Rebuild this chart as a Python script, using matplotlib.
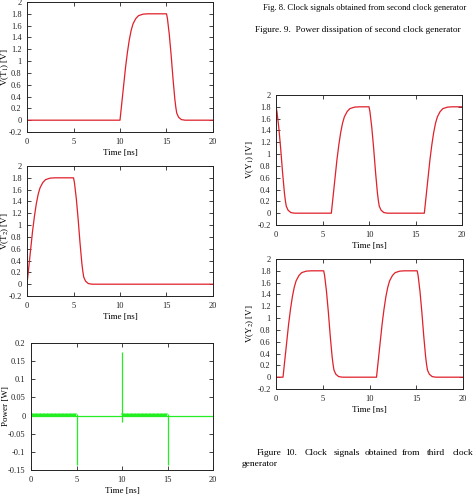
import matplotlib
matplotlib.use("Agg")
import matplotlib.pyplot as plt
import numpy as np

plt.rcParams['font.family'] = ['Liberation Serif', 'DejaVu Serif']
plt.rcParams['mathtext.fontset'] = 'stix'

# ---- data ----
# edge profiles (time offset from edge start [ns], voltage [V])
rise_dt = [0.0, 0.2, 0.4, 0.6, 0.8, 1.0, 1.2, 1.4, 1.7, 2.0, 2.5, 3.0]
rise_v  = [0.0, 0.30, 0.60, 0.90, 1.15, 1.36, 1.52, 1.63, 1.72, 1.77, 1.795, 1.80]
fall_dt = [0.0, 0.1, 0.3, 0.5, 0.7, 0.9, 1.0, 1.1, 1.3, 1.6, 2.0]
fall_v  = [1.80, 1.72, 1.45, 1.10, 0.70, 0.35, 0.22, 0.12, 0.05, 0.01, 0.0]

# edge times [ns] per signal: (kind, start)
edges_t1 = [('r', 10.0), ('f', 15.0)]
edges_t2 = [('r', 0.0), ('f', 5.0)]
edges_y1 = [('f', 0.0), ('r', 5.95), ('f', 10.0), ('r', 15.95)]
edges_y2 = [('r', 0.75), ('f', 5.1), ('r', 10.75), ('f', 15.1)]
init_t1, init_t2, init_y1, init_y2 = 0.0, 0.0, 1.8, 0.0

# power dissipation [W]: ripple between the switching events
ripple_t = [0.0, 0.15, 0.3, 0.45, 0.6, 0.75, 0.9, 1.05, 1.2, 1.35, 1.5, 1.65, 1.8, 1.95,
            2.1, 2.25, 2.4, 2.55, 2.7, 2.85, 3.0, 3.15, 3.3, 3.45, 3.6, 3.75, 3.9, 4.05,
            4.2, 4.35, 4.5, 4.65, 4.8, 4.95]
ripple_hi = [0.005] * 34
ripple_lo = [-0.002] * 34
ripple_starts = [0.0, 10.0]
spike_t = [5.0, 10.0, 15.0]
spike_lo = [-0.135, -0.017, -0.135]
spike_hi = [0.004, 0.175, 0.004]

time_ticks = [0, 5, 10, 15, 20]
v_ticks = [-0.2, 0, 0.2, 0.4, 0.6, 0.8, 1, 1.2, 1.4, 1.6, 1.8, 2]
p_ticks = [-0.15, -0.1, -0.05, 0, 0.05, 0.1, 0.15, 0.2]

RED = '#e0202a'
GREEN = '#22ee22'

W, H = 474, 495
fig = plt.figure(figsize=(W / 100, H / 100), dpi=100)


def add_ax(l, r, t, b):
    return fig.add_axes([l / W, 1 - b / H, (r - l) / W, (b - t) / H])


def build(edges, init):
    ts, vs = [0.0], [init]
    for kind, t0 in edges:
        dts, vals = (rise_dt, rise_v) if kind == 'r' else (fall_dt, fall_v)
        ts.append(t0); vs.append(vs[-1])
        for dt, v in zip(dts, vals):
            ts.append(t0 + dt); vs.append(v)
    ts.append(20.0); vs.append(vs[-1])
    ts = np.array(ts); vs = np.array(vs)
    m = ts <= 20.0
    return ts[m], vs[m]


def style(ax, xticks, yticks, ylim, ylabel, ylx, fmt=None):
    ax.set_xlim(0, 20)
    ax.set_ylim(*ylim)
    ax.set_xticks(xticks)
    ax.set_yticks(yticks)
    if fmt:
        ax.set_yticklabels([fmt(v) for v in yticks])
    else:
        ax.set_yticklabels([('%g' % v) for v in yticks])
    ax.tick_params(direction='in', top=True, right=True, length=3, width=0.6,
                   labelsize=6, pad=4, colors='#222222')
    for s in ax.spines.values():
        s.set_linewidth(0.7)
        s.set_color('#222222')
    ax.set_xlabel('Time [ns]', fontsize=6.5)
    ax.xaxis.set_label_coords(0.5, -0.165)
    ax.xaxis.label.set_va('center')
    ax.set_ylabel(ylabel, fontsize=6.5)
    ax.yaxis.set_label_coords(ylx, 0.5)
    ax.yaxis.label.set_va('center')


panels = [
    ((27, 213, 2, 132), edges_t1, init_t1, 'V(T$_1$) [V]', -0.118),
    ((27, 213, 166, 296), edges_t2, init_t2, 'V(T$_2$) [V]', -0.118),
    ((276, 462, 95, 225), edges_y1, init_y1, 'V(Y$_1$) [V]', -0.14),
    ((276, 463, 259, 389), edges_y2, init_y2, 'V(Y$_2$) [V]', -0.14),
]
for pos, edges, init, lab, ylx in panels:
    ax = add_ax(*pos)
    t, v = build(edges, init)
    ax.plot(t, v, color=RED, lw=0.9)
    style(ax, time_ticks, v_ticks, (-0.2, 2.0), lab, ylx)

# power panel
axp = add_ax(31, 213, 343, 470)
axp.plot([0, 20], [0, 0], color=GREEN, lw=0.9)
for s0 in ripple_starts:
    rt = []
    rv = []
    for i, tt in enumerate(ripple_t):
        rt += [s0 + tt, s0 + tt + 0.075]
        rv += [ripple_hi[i], ripple_lo[i]]
    rt = np.array(rt); rv = np.array(rv)
    m = rt <= s0 + 5.0
    axp.plot(rt[m], rv[m], color=GREEN, lw=0.8)
axp.vlines(spike_t, spike_lo, spike_hi, color=GREEN, lw=0.9)
style(axp, time_ticks, p_ticks, (-0.15, 0.2), 'Power [W]', -0.135,
      fmt=lambda v: '%g' % round(v, 2))

# captions
fig.text(365 / W, 1 - 8 / H, 'Fig. 8. Clock signals obtained from second clock generator',
         ha='center', va='center', fontsize=6.15)
fig.text(357.5 / W, 1 - 30 / H, 'Figure. 9.  Power dissipation of second clock generator',
         ha='center', va='center', fontsize=6.7)
words = ['Figure', '10.', 'Clock', 'signals', 'obtained', 'from', 'third', 'clock']
wx = [257, 285, 305, 334, 365, 402, 427, 453]
for w, x in zip(words, wx):
    fig.text(x / W, 1 - 453 / H, w, ha='left', va='center', fontsize=6.8)
fig.text(242 / W, 1 - 464 / H, 'generator', ha='left', va='center', fontsize=6.8)

fig.savefig('out.png', dpi=100)
